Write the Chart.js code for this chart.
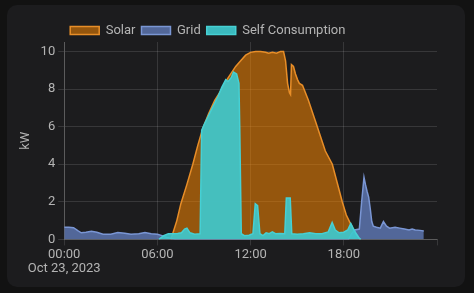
<!DOCTYPE html>
<html>
<head>
<meta charset="utf-8">
<script src="https://cdn.jsdelivr.net/npm/chart.js@4"></script>
<style>
  html, body { margin: 0; padding: 0; background: #121212; width: 474px; height: 293px; overflow: hidden; }
  #card { position: absolute; left: 7px; top: 5px; width: 458px; height: 282px; background: #1c1c1e; border-radius: 10px; }
  #c { position: absolute; left: 0; top: 0; }
</style>
</head>
<body>
<div id="card"><canvas id="c" width="458" height="282"></canvas></div>
<script>
// ---- data (hours of day, kW) ----
const solarHours = [6.87, 7.06, 7.25, 7.51, 7.89, 8.28, 8.6, 8.92, 9.3, 9.69, 10.08, 10.4, 10.72, 11.04, 11.36, 11.68, 12.0, 12.32, 12.64, 12.96, 13.16, 13.41, 13.67, 13.93, 14.12, 14.25, 14.38, 14.5, 14.57, 14.63, 14.76, 14.89, 15.02, 15.14, 15.34, 15.72, 16.17, 16.49, 16.81, 17.26, 17.58, 17.9, 18.16, 18.42, 18.67, 18.87, 19.06];
const solarKw    = [0, 0.5, 1.0, 1.9, 2.9, 4.0, 5.0, 5.9, 6.7, 7.4, 7.9, 8.4, 8.8, 9.2, 9.5, 9.8, 9.95, 10.0, 10.0, 9.95, 9.9, 9.95, 9.9, 10.0, 10.0, 9.5, 8.3, 7.8, 7.7, 9.3, 9.2, 8.8, 8.5, 8.3, 8.2, 7.4, 6.3, 5.5, 4.7, 4.0, 3.0, 2.0, 1.3, 0.85, 0.45, 0.2, 0];

const gridHours = [0, 0.3, 0.6, 0.9, 1.1, 1.4, 1.75, 2.1, 2.5, 3.0, 3.45, 3.9, 4.3, 4.8, 5.2, 5.6, 6.0, 6.3, 6.6, 6.9, 7.2, 18.3, 18.5, 18.7, 19.0, 19.15, 19.3, 19.4, 19.5, 19.6, 19.7, 19.8, 19.9, 20.1, 20.35, 20.55, 20.75, 20.95, 21.3, 21.6, 21.9, 22.2, 22.4, 22.6, 22.9, 23.15];
const gridKw    = [0.64, 0.64, 0.62, 0.45, 0.35, 0.38, 0.43, 0.38, 0.28, 0.28, 0.37, 0.33, 0.27, 0.3, 0.37, 0.3, 0.27, 0.2, 0.1, 0.05, 0, 0, 0.3, 0.5, 0.55, 2.0, 3.3, 2.9, 2.55, 2.25, 1.65, 0.95, 0.7, 0.65, 0.6, 0.95, 0.7, 0.6, 0.65, 0.6, 0.55, 0.5, 0.55, 0.5, 0.48, 0.45];

const selfHours = [6.1, 6.4, 6.7, 7.0, 7.3, 7.55, 7.75, 7.9, 8.1, 8.4, 8.75, 8.85, 9.0, 9.3, 9.6, 9.9, 10.15, 10.4, 10.55, 10.75, 10.9, 11.1, 11.25, 11.3, 11.4, 11.6, 11.9, 12.15, 12.3, 12.45, 12.6, 12.8, 13.0, 13.2, 13.4, 13.6, 13.9, 14.2, 14.3, 14.55, 14.65, 15.0, 15.4, 15.8, 16.2, 16.6, 17.0, 17.25, 17.45, 17.7, 18.0, 18.25, 18.45, 18.6, 18.8, 19.0, 19.1];
const selfKw    = [0, 0.2, 0.3, 0.3, 0.32, 0.35, 0.55, 0.6, 0.35, 0.28, 0.3, 5.8, 6.1, 6.6, 7.1, 7.6, 8.1, 8.5, 8.4, 8.6, 8.9, 8.8, 8.3, 6.0, 0.3, 0.2, 0.22, 0.3, 1.9, 1.8, 0.3, 0.2, 0.35, 0.3, 0.4, 0.3, 0.32, 0.3, 2.2, 2.2, 0.3, 0.28, 0.3, 0.35, 0.3, 0.3, 0.4, 0.9, 0.5, 0.35, 0.38, 0.5, 0.85, 0.6, 0.3, 0.05, 0];

const seriesNames = ['Solar', 'Grid', 'Self Consumption'];
const xTickHours = [0, 6, 12, 18, 24];
const xTickLabels = ['00:00', '06:00', '12:00', '18:00', ''];
const dateLabel = 'Oct 23, 2023';
const yTicks = [0, 2, 4, 6, 8, 10];
const yMax = 10.5;
const yTitle = 'kW';

const pts = (hs, vs) => hs.map((h, i) => ({ x: h, y: vs[i] }));

const textColor = '#b4b4b4';
const gridColor = 'rgba(255,255,255,0.12)';
Chart.defaults.font.family = 'Roboto, sans-serif';
Chart.defaults.font.size = 13;
Chart.defaults.color = textColor;

// tighten the space between the legend and the plot area
const legendTrim = {
  id: 'legendTrim',
  afterInit(chart) {
    const lg = chart.legend;
    if (!lg) return;
    const origFit = lg.fit.bind(lg);
    lg.fit = function () { origFit(); this.height -= 5; };
    if (typeof lg._draw === 'function') {
      lg.draw = function () { if (this.options.display) this._draw(); };
    }
  }
};

new Chart(document.getElementById('c'), {
  type: 'line',
  data: {
    datasets: [
      { label: seriesNames[0], data: pts(solarHours, solarKw), borderColor: 'rgb(232,142,40)', backgroundColor: 'rgba(250,135,0,0.55)', fill: 'origin', order: 3 },
      { label: seriesNames[1], data: pts(gridHours, gridKw), borderColor: 'rgb(122,150,212)', backgroundColor: 'rgba(100,128,195,0.75)', fill: 'origin', order: 2 },
      { label: seriesNames[2], data: pts(selfHours, selfKw), borderColor: 'rgb(70,208,212)', backgroundColor: 'rgba(62,200,205,0.92)', fill: 'origin', order: 1 }
    ]
  },
  plugins: [legendTrim],
  options: {
    animation: false,
    responsive: false,
    devicePixelRatio: 1,
    elements: { point: { radius: 0 }, line: { borderWidth: 1.5, tension: 0 } },
    layout: { padding: { left: 7, right: 28, top: 13, bottom: 9 } },
    plugins: {
      legend: {
        position: 'top', align: 'start', fullSize: false,
        labels: { boxWidth: 29, boxHeight: 8, padding: 6, color: textColor, font: { size: 13 },
          sort: (a, b) => a.datasetIndex - b.datasetIndex }
      },
      tooltip: { enabled: false }
    },
    scales: {
      x: {
        type: 'linear', min: 0, max: 24,
        afterBuildTicks: (s) => { s.ticks = xTickHours.map(v => ({ value: v })); },
        ticks: {
          maxRotation: 0, autoSkip: false, padding: 2, color: textColor,
          font: { size: 13, lineHeight: 1.1 },
          callback: (v) => { const i = xTickHours.indexOf(v); if (i < 0) return ''; return v === 0 ? [xTickLabels[i], dateLabel] : xTickLabels[i]; }
        },
        grid: { color: (c) => (c.tick && c.tick.value === 24) ? 'rgba(0,0,0,0)' : gridColor, tickColor: gridColor, tickLength: 6 },
        border: { color: 'rgba(255,255,255,0.18)' }
      },
      y: {
        min: 0, max: yMax,
        afterBuildTicks: (s) => { s.ticks = yTicks.map(v => ({ value: v })); },
        ticks: { padding: 3, color: textColor, font: { size: 13 } },
        grid: { color: gridColor, tickColor: gridColor, tickLength: 6 },
        border: { color: 'rgba(255,255,255,0.18)' },
        title: { display: true, text: yTitle, color: textColor, font: { size: 13 } }
      }
    }
  }
});
</script>
</body>
</html>
